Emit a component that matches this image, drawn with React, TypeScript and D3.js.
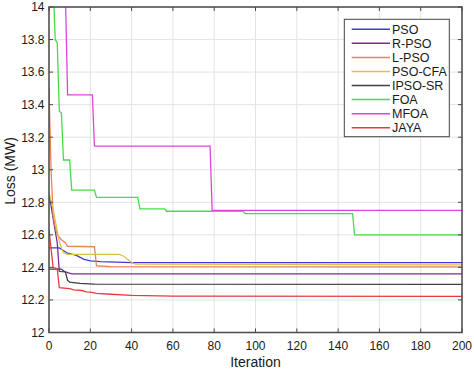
import React from "react";
import * as d3 from "d3";

const seriesNames = ["PSO", "R-PSO", "L-PSO", "PSO-CFA", "IPSO-SR", "FOA", "MFOA", "JAYA"];
const seriesColors = ["#3c3cdc", "#7b2d8e", "#e8845c", "#d9c24a", "#404040", "#44dd44", "#e044e0", "#e83c3c"];

const psoData: [number, number][] = [
  [0, 12.52], [5, 12.52], [9, 12.487], [13, 12.475], [17, 12.45], [20, 12.44], [25, 12.435], [40, 12.429], [200, 12.429],
];
const rpsoData: [number, number][] = [
  [0, 12.85], [1, 12.78], [2, 12.7], [4, 12.55], [5, 12.375], [8, 12.372], [11, 12.36], [200, 12.36],
];
const lpsoData: [number, number][] = [
  [0, 13.5], [1, 13.0], [2, 12.72], [3, 12.65], [4, 12.6], [6, 12.57], [8, 12.55], [9, 12.53], [22, 12.527], [23, 12.41], [30, 12.405], [200, 12.403],
];
const psocfaData: [number, number][] = [
  [0, 12.86], [2, 12.76], [4, 12.62], [5, 12.56], [6, 12.52], [7, 12.49], [9, 12.48], [34, 12.48], [36, 12.47], [38, 12.45], [40, 12.43], [42, 12.42], [200, 12.415],
];
const ipsosrData: [number, number][] = [
  [0, 12.39], [6, 12.39], [8, 12.37], [9, 12.32], [10, 12.31], [15, 12.302], [22, 12.297], [200, 12.296],
];
const foaData: [number, number][] = [
  [0, 15.0], [2, 14.15], [3, 13.8], [4, 13.78], [5, 13.36], [6, 13.35], [7, 13.06], [10, 13.06], [11, 12.875], [22, 12.875], [23, 12.83], [43, 12.83], [44, 12.76], [56, 12.76], [57, 12.745], [94, 12.745], [95, 12.73], [147, 12.73], [148, 12.6], [200, 12.6],
];
const mfoaData: [number, number][] = [
  [0, 15.5], [8, 14.05], [9, 13.46], [21, 13.46], [22, 13.145], [78, 13.145], [79, 12.75], [200, 12.75],
];
const jayaData: [number, number][] = [
  [0, 12.63], [2, 12.4], [4, 12.39], [5, 12.275], [10, 12.27], [12, 12.262], [16, 12.258], [18, 12.25], [20, 12.248], [23, 12.24], [30, 12.235], [40, 12.228], [60, 12.224], [200, 12.222],
];

const allSeries = [psoData, rpsoData, lpsoData, psocfaData, ipsosrData, foaData, mfoaData, jayaData];

const xTicks = [0, 20, 40, 60, 80, 100, 120, 140, 160, 180, 200];
const yTicks = [12, 12.2, 12.4, 12.6, 12.8, 13, 13.2, 13.4, 13.6, 13.8, 14];

const W = 474;
const H = 370;
const L = 49, R = 462, T = 7, B = 332.5;

export default function App() {
  const x = d3.scaleLinear().domain([0, 200]).range([L, R]);
  const y = d3.scaleLinear().domain([12, 14]).range([B, T]);
  const line = d3.line<[number, number]>().x((d) => x(d[0])).y((d) => y(d[1]));
  const font = "Arial, 'Liberation Sans', Helvetica, sans-serif";
  const legX0 = 344.3, legY0 = 19.3, legW = 105, legH = 117.4;
  return (
    <svg width={W} height={H} style={{ position: "absolute", left: 0, top: 0, background: "#fff" }} fontFamily={font}>
      <defs>
        <clipPath id="plotclip">
          <rect x={L} y={T} width={R - L} height={B - T} />
        </clipPath>
      </defs>
      <rect x={0} y={0} width={W} height={H} fill="#fff" />
      {/* grid */}
      {xTicks.map((t) => (
        <line key={"gx" + t} x1={x(t)} x2={x(t)} y1={T} y2={B} stroke="#e3e3e3" strokeWidth={1} />
      ))}
      {yTicks.map((t) => (
        <line key={"gy" + t} x1={L} x2={R} y1={y(t)} y2={y(t)} stroke="#e3e3e3" strokeWidth={1} />
      ))}
      {/* series */}
      <g clipPath="url(#plotclip)">
        {allSeries.map((s, i) => (
          <path key={seriesNames[i]} d={line(s) || ""} fill="none" stroke={seriesColors[i]} strokeWidth={1.3} />
        ))}
      </g>
      {/* frame */}
      <rect x={L} y={T} width={R - L} height={B - T} fill="none" stroke="#4a4a4a" strokeWidth={1.5} />
      {/* ticks */}
      {xTicks.map((t) => (
        <g key={"tx" + t}>
          <line x1={x(t)} x2={x(t)} y1={B} y2={B - 4} stroke="#4a4a4a" />
          <line x1={x(t)} x2={x(t)} y1={T} y2={T + 4} stroke="#4a4a4a" />
          <text x={x(t)} y={350} textAnchor="middle" fontSize={12} fill="#1a1a1a">{t}</text>
        </g>
      ))}
      {yTicks.map((t) => (
        <g key={"ty" + t}>
          <line x1={L} x2={L + 4} y1={y(t)} y2={y(t)} stroke="#4a4a4a" />
          <line x1={R} x2={R - 4} y1={y(t)} y2={y(t)} stroke="#4a4a4a" />
          <text x={44.5} y={y(t) + 4.3} textAnchor="end" fontSize={12} fill="#1a1a1a">{d3.format("~g")(t)}</text>
        </g>
      ))}
      <text x={255.5} y={367} textAnchor="middle" fontSize={14} fill="#1a1a1a">Iteration</text>
      <text transform={`translate(15,171) rotate(-90)`} textAnchor="middle" fontSize={14} fill="#1a1a1a">Loss (MW)</text>
      {/* legend */}
      <rect x={legX0} y={legY0} width={legW} height={legH} fill="#fff" stroke="#444" strokeWidth={1} />
      {seriesNames.map((n, i) => {
        const cy = 29.3 + i * 14.06;
        return (
          <g key={"leg" + n}>
            <line x1={351.7} x2={390} y1={cy} y2={cy} stroke={seriesColors[i]} strokeWidth={1.5} />
            <text x={392} y={cy + 4.4} fontSize={12.5} fill="#1a1a1a">{n}</text>
          </g>
        );
      })}
    </svg>
  );
}
